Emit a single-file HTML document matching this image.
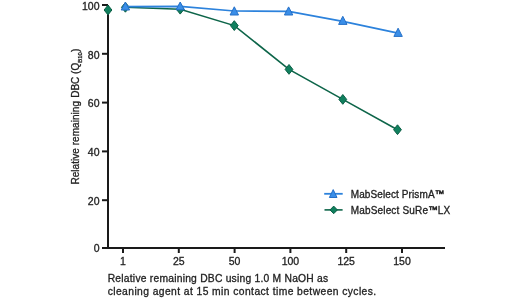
<!DOCTYPE html>
<html><head><meta charset="utf-8">
<style>
html,body{margin:0;padding:0;background:#fff;}
body{width:520px;height:300px;overflow:hidden;}
svg{display:block;font-family:"Liberation Sans",sans-serif;}
text{stroke:#222;stroke-width:0.3px;}
.gs{will-change:transform;}
</style></head><body>
<svg class="gs" width="520" height="300" viewBox="0 0 520 300">
<rect width="520" height="300" fill="#fff"/>
<!-- axes -->
<g stroke="#1a1a1a" stroke-width="2" fill="none">
<line x1="108" y1="5" x2="108" y2="249"/>
<line x1="102" y1="248" x2="445" y2="248"/>
<line x1="102" y1="5" x2="108" y2="5"/>
<line x1="102" y1="53.8" x2="108" y2="53.8"/>
<line x1="102" y1="102.6" x2="108" y2="102.6"/>
<line x1="102" y1="151.4" x2="108" y2="151.4"/>
<line x1="102" y1="200.2" x2="108" y2="200.2"/>
<line x1="102" y1="248" x2="108" y2="248"/>
<line x1="123" y1="248" x2="123" y2="253"/>
<line x1="178.8" y1="248" x2="178.8" y2="253"/>
<line x1="234.6" y1="248" x2="234.6" y2="253"/>
<line x1="290.4" y1="248" x2="290.4" y2="253"/>
<line x1="346.2" y1="248" x2="346.2" y2="253"/>
<line x1="402" y1="248" x2="402" y2="253"/>
</g>
<!-- y tick labels -->
<g fill="#222" font-size="10.5" text-anchor="end">
<text x="99.5" y="9.8">100</text>
<text x="99.5" y="58.6">80</text>
<text x="99.5" y="107.3">60</text>
<text x="99.5" y="156">40</text>
<text x="99.5" y="205">20</text>
<text x="99.5" y="251.9">0</text>
</g>
<!-- x tick labels -->
<g fill="#222" font-size="10.5" text-anchor="middle">
<text x="123" y="264.8">1</text>
<text x="178.8" y="264.8">25</text>
<text x="234.6" y="264.8">50</text>
<text x="290.4" y="264.8">100</text>
<text x="346.2" y="264.8">125</text>
<text x="402" y="264.8">150</text>
</g>
<!-- y axis title -->
<text transform="translate(78.5,184.6) rotate(-90)" fill="#222" font-size="10" textLength="83.6" lengthAdjust="spacing">Relative remaining</text>
<text transform="translate(78.5,97.8) rotate(-90)" fill="#222" font-size="10">DBC (Q<tspan font-size="6" dy="3.8">B10</tspan><tspan dy="-3.8">)</tspan></text>
<!-- caption -->
<text x="107.7" y="281.9" fill="#222" font-size="10.3" textLength="220.5" lengthAdjust="spacing">Relative remaining DBC using 1.0 M NaOH as</text>
<text x="107.7" y="295.4" fill="#222" font-size="10.3" textLength="268.5" lengthAdjust="spacing">cleaning agent at 15 min contact time between cycles.</text>
<!-- green series -->
<polyline points="125.4,7.3 180.2,9.2 234.3,25.6 289,69.4 342.8,99.4 397.5,129.7" fill="none" stroke="#0d6549" stroke-width="1.6"/>
<g fill="#10805e" stroke="#0b5e45" stroke-width="1">
<path d="M108 5.10 L111.90 10 L108 14.90 L104.10 10 Z"/>
<path d="M125.4 2.40 L129.30 7.3 L125.4 12.20 L121.50 7.3 Z"/>
<path d="M180.2 4.30 L184.10 9.2 L180.2 14.10 L176.30 9.2 Z"/>
<path d="M234.3 20.70 L238.20 25.6 L234.3 30.50 L230.40 25.6 Z"/>
<path d="M289 64.50 L292.90 69.4 L289 74.30 L285.10 69.4 Z"/>
<path d="M342.8 94.50 L346.70 99.4 L342.8 104.30 L338.90 99.4 Z"/>
<path d="M397.5 124.80 L401.40 129.7 L397.5 134.60 L393.60 129.7 Z"/>
</g>
<!-- blue series -->
<polyline points="125.4,6.7 180.2,6.3 234.3,11 288.7,11.3 342.8,21.3 398,33.1" fill="none" stroke="#2c82dc" stroke-width="1.7"/>
<g fill="#3a8ee8" stroke="#2570c8" stroke-width="1">
<path d="M125.4 2 L129.6 10 L121.2 10 Z"/>
<path d="M180.2 2 L184.4 9.8 L176 9.8 Z"/>
<path d="M234.3 6.8 L238.5 15 L230.1 15 Z"/>
<path d="M288.6 6.9 L292.8 15 L284.4 15 Z"/>
<path d="M342.8 16.3 L347 24.4 L338.6 24.4 Z"/>
<path d="M398.1 28.2 L402.3 36.4 L393.9 36.4 Z"/>
</g>
<!-- legend -->
<line x1="324.2" y1="193.8" x2="342.7" y2="193.8" stroke="#2c82dc" stroke-width="1.8"/>
<path d="M333.2 189.6 L337 197.5 L329.4 197.5 Z" fill="#3a8ee8" stroke="#2570c8" stroke-width="1"/>
<line x1="324.5" y1="209.9" x2="342.6" y2="209.9" stroke="#0d6549" stroke-width="1.6"/>
<path d="M333.7 206.1 L337.4 209.9 L333.7 213.7 L330 209.9 Z" fill="#10805e" stroke="#0b5e45" stroke-width="1"/>
<text x="350.7" y="197.9" fill="#222" font-size="10" textLength="93.5" lengthAdjust="spacing">MabSelect PrismA<tspan font-size="9.5" dy="-0.6" style="stroke-width:0.5px">™</tspan></text>
<text x="350.7" y="213.8" fill="#222" font-size="10" textLength="99.5" lengthAdjust="spacing">MabSelect SuRe<tspan font-size="9.5" dy="-0.6" style="stroke-width:0.5px">™</tspan><tspan dy="0.6">LX</tspan></text>
</svg>
</body></html>
